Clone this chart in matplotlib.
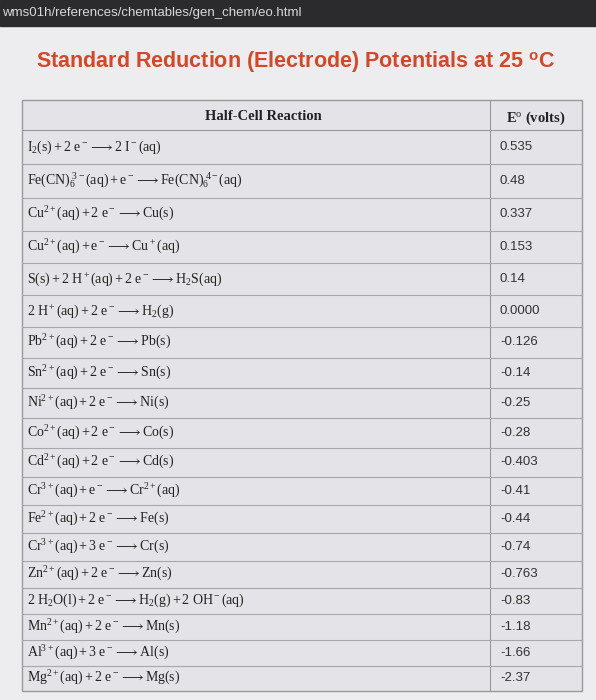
import matplotlib.pyplot as plt
import numpy as np

url = "wms01h/references/chemtables/gen_chem/eo.html"
title = "Standard Reduction (Electrode) Potentials at 25 $^{\\mathbf{o}}$C"
header = ["Half-Cell Reaction", r"E$^{\mathrm{o}}$ (volts)"]

reactions = [
    r"$\mathrm{I_2(s) + 2\ e^- \longrightarrow 2\ I^-(aq)}$",
    r"$\mathrm{Fe(CN)_6^{\ 3-}(aq) + e^- \longrightarrow Fe(CN)_6^{\ 4-}(aq)}$",
    r"$\mathrm{Cu^{2+}(aq) + 2\ e^- \longrightarrow Cu(s)}$",
    r"$\mathrm{Cu^{2+}(aq) + e^- \longrightarrow Cu^+(aq)}$",
    r"$\mathrm{S(s) + 2\ H^+(aq) + 2\ e^- \longrightarrow H_2S(aq)}$",
    r"$\mathrm{2\ H^+(aq) + 2\ e^- \longrightarrow H_2(g)}$",
    r"$\mathrm{Pb^{2+}(aq) + 2\ e^- \longrightarrow Pb(s)}$",
    r"$\mathrm{Sn^{2+}(aq) + 2\ e^- \longrightarrow Sn(s)}$",
    r"$\mathrm{Ni^{2+}(aq) + 2\ e^- \longrightarrow Ni(s)}$",
    r"$\mathrm{Co^{2+}(aq) + 2\ e^- \longrightarrow Co(s)}$",
    r"$\mathrm{Cd^{2+}(aq) + 2\ e^- \longrightarrow Cd(s)}$",
    r"$\mathrm{Cr^{3+}(aq) + e^- \longrightarrow Cr^{2+}(aq)}$",
    r"$\mathrm{Fe^{2+}(aq) + 2\ e^- \longrightarrow Fe(s)}$",
    r"$\mathrm{Cr^{3+}(aq) + 3\ e^- \longrightarrow Cr(s)}$",
    r"$\mathrm{Zn^{2+}(aq) + 2\ e^- \longrightarrow Zn(s)}$",
    r"$\mathrm{2\ H_2O(l) + 2\ e^- \longrightarrow H_2(g) + 2\ OH^-(aq)}$",
    r"$\mathrm{Mn^{2+}(aq) + 2\ e^- \longrightarrow Mn(s)}$",
    r"$\mathrm{Al^{3+}(aq) + 3\ e^- \longrightarrow Al(s)}$",
    r"$\mathrm{Mg^{2+}(aq) + 2\ e^- \longrightarrow Mg(s)}$",
]
potentials = ["0.535", "0.48", "0.337", "0.153", "0.14", "0.0000", "-0.126",
              "-0.14", "-0.25", "-0.28", "-0.403", "-0.41", "-0.44", "-0.74",
              "-0.763", "-0.83", "-1.18", "-1.66", "-2.37"]

plt.rcParams['mathtext.fontset'] = 'custom'
plt.rcParams['mathtext.rm'] = 'Liberation Serif'
plt.rcParams['mathtext.it'] = 'Liberation Serif:italic'
plt.rcParams['mathtext.bf'] = 'Liberation Sans:bold'

fig = plt.figure(figsize=(5.96, 7), dpi=100)
fig.patch.set_facecolor('#ededef')
ax = fig.add_axes([0, 0, 1, 1])
ax.set_xlim(0, 596)
ax.set_ylim(700, 0)
ax.axis('off')

# top bar
ax.add_patch(plt.Rectangle((0, 0), 596, 26, color='#2b2b2d'))
ax.text(2, 13, url, color='#d8d8d8', fontsize=9.5, va='center', family='Liberation Sans')
ax.text(36, 62, title, color='#d2492a', fontsize=15.5, fontweight='bold',
        va='center', family='Liberation Sans')

# table geometry (photo perspective: rows get shorter downward)
left, mid, right = 22, 490, 582
top, head_h = 100, 30
n = len(reactions)
heights = np.linspace(34, 25, n)
edges = top + head_h + np.concatenate([[0], np.cumsum(heights)])

ax.add_patch(plt.Rectangle((left, top), right - left, edges[-1] - top,
                           facecolor='#e4e4e8', edgecolor='#9a9a9e', lw=1))
ax.plot([left, right], [top + head_h] * 2, color='#9a9a9e', lw=0.8)
ax.plot([mid, mid], [top, edges[-1]], color='#9a9a9e', lw=0.8)
for y in edges[1:-1]:
    ax.plot([left, right], [y, y], color='#a8a8ac', lw=0.8)

ax.text(263, top + 16, header[0], fontsize=10.5, fontweight='bold',
        family='Liberation Serif', ha='center', va='center', color='#222')
ax.text(536, top + 18, header[1], fontsize=10.5, fontweight='bold',
        family='Liberation Serif', ha='center', va='center', color='#222')

for i in range(n):
    yc = (edges[i] + edges[i + 1]) / 2
    ax.text(left + 5, yc, reactions[i], fontsize=10, va='center', color='#222')
    ax.text(mid + 10, yc, potentials[i], fontsize=9.5, va='center',
            family='Liberation Sans', color='#333')

fig.savefig('out.png', dpi=100, facecolor=fig.get_facecolor())
